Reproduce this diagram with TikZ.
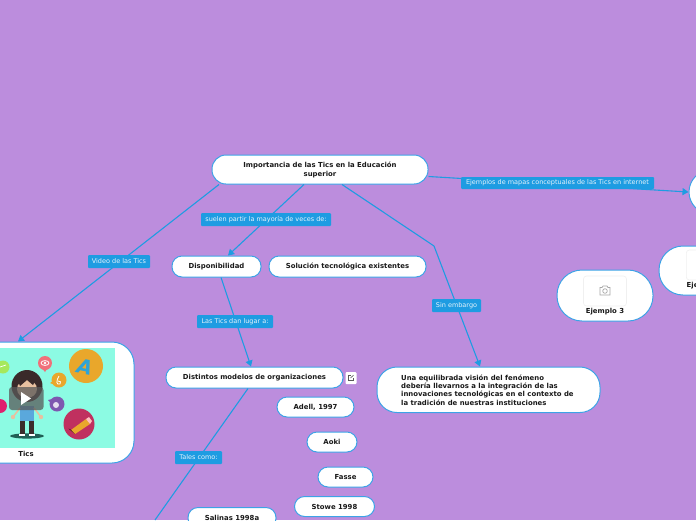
\documentclass[tikz,border=0pt]{standalone}
\usepackage{fontspec}
\setmainfont{DejaVu Sans}
\usetikzlibrary{arrows.meta}
\definecolor{bgpurple}{HTML}{BC8DDD}
\definecolor{linkblue}{HTML}{1E9CE2}
\definecolor{edgeblue}{HTML}{3DA3E6}
\definecolor{aqua}{HTML}{8CFBE3}
\definecolor{amber}{HTML}{E9A72B}
\definecolor{crimson}{HTML}{C0305F}
\definecolor{salmon}{HTML}{F0707A}
\definecolor{lime}{HTML}{A6E85C}
\definecolor{grape}{HTML}{7E57B0}
\definecolor{rosered}{HTML}{E0206F}
\definecolor{skyA}{HTML}{2EA3D6}
\definecolor{hair}{HTML}{3A2A2A}
\definecolor{pants}{HTML}{3B2C2C}
\definecolor{shirt}{HTML}{5AA8DC}
\definecolor{skin}{HTML}{E8C0A0}
\definecolor{shadowteal}{HTML}{1F5F55}
\tikzset{
  topic/.style={draw=edgeblue,line width=1pt,fill=white,rounded corners=#1,inner sep=0pt,align=center,font=\bfseries\fontsize{6.9}{9}\selectfont,text=black!90},
  topic/.default=10pt,
  linklabel/.style={fill=linkblue,rounded corners=1pt,text=white!88!linkblue,inner sep=0pt,font=\fontsize{6.5}{7}\selectfont,anchor=center},
  link/.style={draw=linkblue,line width=1.1pt},
  arrowlink/.style={link,-{Triangle[length=6pt,width=7pt]}},
  capt/.style={font=\bfseries\fontsize{6.9}{8}\selectfont,text=black!90,inner sep=0pt},
  photo/.style={draw=black!6,fill=white,rounded corners=3pt,line width=.6pt,minimum width=43pt,minimum height=30pt,inner sep=0pt},
  camglyph/.style={draw=black!35,line width=.7pt,fill=none},
}
\begin{document}
\begin{tikzpicture}[x=1pt,y=-1pt]
\fill[bgpurple] (0,0) rectangle (696,520);
\path[clip,use as bounding box] (0,0) rectangle (696,520);

% nodes
\node[topic=14pt,minimum width=216pt,minimum height=29pt] (root) at (320,169.5) {Importancia de las Tics en la Educación\\superior};
\node[topic,minimum width=89pt,minimum height=21pt] (disp) at (216.5,266.5) {Disponibilidad};
\node[topic,minimum width=157pt,minimum height=21pt] (sol) at (347.5,266.5) {Solución tecnológica existentes};
\node[topic,minimum width=177pt,minimum height=21pt] (dist) at (254.5,377.5) {Distintos modelos de organizaciones};
\node[topic,minimum width=77pt,minimum height=20pt] (adell) at (315.5,407) {Adell, 1997};
\node[topic,minimum width=50pt,minimum height=20pt] (aoki) at (332,442) {Aoki};
\node[topic,minimum width=55pt,minimum height=20pt] (fasse) at (345.5,477) {Fasse};
\node[topic,minimum width=80pt,minimum height=20pt] (stowe) at (334.5,506.5) {Stowe 1998};
\node[topic,minimum width=88pt,minimum height=21pt] (salinas) at (232,518) {Salinas 1998a};
\node[topic=20pt,minimum width=223pt,minimum height=45.5pt] (una) at (488.5,389.75) {};
\node[font=\bfseries\fontsize{6.9}{8.2}\selectfont,text=black!90,align=left,anchor=west,inner sep=0pt] (unatext) at (401,390) {Una equilibrada visión del fenómeno\\debería llevarnos a la integración de las\\innovaciones tecnológicas en el contexto de\\la tradición de nuestras instituciones};
\node[topic=22pt,minimum width=174pt,minimum height=121pt] (tics) at (47,402.5) {};
\node[topic=25pt,minimum width=96pt,minimum height=51pt] (ej3) at (605,295.5) {};
\node[topic=24pt,minimum width=96pt,minimum height=49pt] (ej2) at (707,270.5) {};
\node[topic=22pt,minimum width=70pt,minimum height=44pt] (ej1) at (724,192) {};

% picture of the video node
\fill[aqua] (0,348) rectangle (115,447.5);
\fill[amber] (86,366) circle (17pt);
\node[font=\bfseries\itshape\fontsize{20}{20}\selectfont,text=skyA,inner sep=0pt,rotate=-12] (pica) at (85,367) {A};
\fill[salmon] (45,363) circle (7pt);
\fill[salmon] (41,367) -- (47,369) -- (45,372) -- cycle;
\draw[white,line width=.8pt] (45,363) ellipse (4pt and 2.4pt);
\fill[white] (45,363) circle (1.3pt);
\fill[lime] (3,367) circle (6.5pt);
\draw[white,line width=.7pt] (0,367) -- (6,365);
\fill[amber] (59,380) circle (7.5pt);
\fill[amber] (53,381) -- (50,383) -- (55,385) -- cycle;
\draw[white,line width=.8pt] (59,376) .. controls (56,381) and (56,385) .. (60,384) .. controls (62,383) and (60,380) .. (58,381);
\fill[grape] (57,404) circle (7.5pt);
\fill[grape] (52,399) -- (48,400) -- (51,403) -- cycle;
\fill[white!80!grape] (56,405) circle (3pt);
\fill[rosered] (0,406) circle (7pt);
\fill[crimson] (79,424) circle (15.5pt);
\fill[amber] (71,430) -- (86,419) -- (90,424) -- (75,434) -- cycle;
\fill[pink] (86,419) -- (89,417) -- (92,421) -- (90,424) -- cycle;
\fill[black] (71,430) -- (75,434) -- (68.5,428.5) -- cycle;
% girl
\fill[shadowteal] (27,436) ellipse (17pt and 2.6pt);
\fill[pants] (20,418) rectangle (25,434);
\fill[pants] (29,418) rectangle (34,434);
\fill[white] (19,434) rectangle (25,436);
\fill[white] (29,434) rectangle (35,436);
\fill[shirt] (20,406) rectangle (34,421);
\draw[skin,line width=1.6pt] (20,408) -- (13,417);
\draw[skin,line width=1.6pt] (34,408) -- (41,417);
\fill[skin] (13,417) circle (2.2pt);
\fill[skin] (41,417) circle (2.2pt);
\fill[hair] (27,386) ellipse (15.5pt and 16pt);
\fill[skin] (27,389) ellipse (10pt and 9pt);
\fill[hair] (17,378) -- (37,378) -- (33,385) -- (27,380) -- (20,386) -- cycle;
% play control
\fill[black!65,opacity=.75,rounded corners=3pt] (9,387) rectangle (43.5,410);
\fill[white] (21,392) -- (31,398.5) -- (21,405) -- cycle;
\node[capt] (ticscap) at (26,453.5) {Tics};

% camera boxes
\node[photo] (ej3pic) at (605,291) {};
\draw[camglyph] (600,287.5) -- (602,287.5) -- (603,286) -- (607,286) -- (608,287.5) -- (610,287.5) -- (610,295) -- (600,295) -- cycle;
\draw[camglyph] (605,291) circle (2.3pt);
\node[capt] (ej3cap) at (605,311.5) {Ejemplo 3};
\node[photo,anchor=west] (ej2pic) at (686,265) {};
\node[capt,anchor=west] (ej2cap) at (686.5,285.5) {Ejemplo 2};

% external-link icon
\node[fill=white,minimum width=11pt,minimum height=12pt,inner sep=0pt,rounded corners=1pt] (ext) at (351,378) {};
\draw[black!65,line width=.6pt] (350.8,375.5) -- (348.7,375.5) -- (348.7,380.3) -- (353.3,380.3) -- (353.3,378.2);
\draw[black!65,line width=.6pt] (350.5,378) -- (353.5,375.2);

% connectors
\draw[arrowlink] ([xshift=-101pt]root.south) -- ([xshift=-29pt]tics.north);
\draw[arrowlink] ([xshift=-16pt]root.south) -- ([xshift=11.5pt]disp.north);
\draw[arrowlink] ([xshift=22pt]root.south) -- (434,246) -- ([xshift=-8.5pt]una.north);
\draw[arrowlink] (root.east |- 0,176.5) -- (ej1.west);
\draw[arrowlink] ([xshift=4.5pt]disp.south) -- ([xshift=-3.5pt]dist.north);
\coordinate (down) at (155,520);
\draw[link] ([xshift=-6.5pt]dist.south) -- (down);

% connector labels
\node[linklabel,minimum width=62pt,minimum height=13pt] (l1) at (119,261.5) {Video de las Tics};
\node[linklabel,minimum width=130pt,minimum height=13pt] (l2) at (266,219.5) {suelen partir la mayoría de veces de:};
\node[linklabel,minimum width=76pt,minimum height=13pt] (l3) at (235,321.5) {Las Tics dan lugar a:};
\node[linklabel,minimum width=49pt,minimum height=13pt] (l4) at (456.5,305.5) {Sin embargo};
\node[linklabel,minimum width=193pt,minimum height=12pt] (l5) at (557.5,183) {Ejemplos de mapas conceptuales de las Tics en internet};
\node[linklabel,minimum width=47pt,minimum height=13pt] (l6) at (198.5,457.5) {Tales como:};
\end{tikzpicture}
\end{document}
